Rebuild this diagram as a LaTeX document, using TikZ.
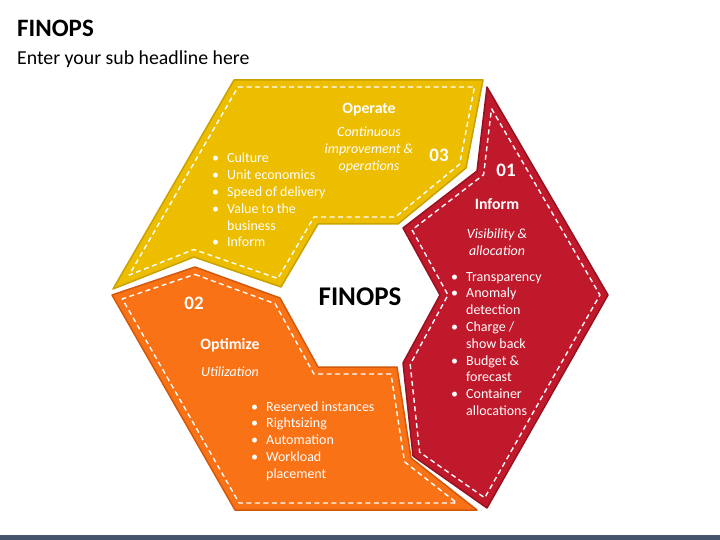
\documentclass[tikz,border=0pt]{standalone}
\usepackage{fontspec}
\setmainfont{Carlito}
\definecolor{yfill}{HTML}{EDBD00}
\definecolor{ydraw}{HTML}{C9A200}
\definecolor{rfill}{HTML}{C1192C}
\definecolor{rdraw}{HTML}{961220}
\definecolor{ofill}{HTML}{FA7216}
\definecolor{odraw}{HTML}{D2580C}
\definecolor{barcol}{HTML}{44546A}
\begin{document}
\begin{tikzpicture}[x=1pt,y=-1pt,
  piece/.style={line width=1.5pt, line join=round},
  stitch/.style={draw=white, line width=1.4pt, dash pattern=on 5pt off 3.5pt, line join=round},
  hd/.style={text=white, font=\bfseries\fontsize{15.8}{18}\selectfont, inner sep=0pt, anchor=base},
  num/.style={text=white, font=\bfseries\fontsize{19}{22}\selectfont, inner sep=0pt, anchor=base},
  sub/.style={text=white, font=\itshape\fontsize{14}{17}\selectfont, inner sep=0pt, anchor=base},
  bul/.style={text=white, font=\fontsize{14}{16.8}\selectfont, inner sep=0pt, anchor=base west}]
\useasboundingbox (0,0) rectangle (720,540);
\fill[barcol] (0,535) rectangle (720,540);

% titles
\node[inner sep=0pt, anchor=base west, font=\bfseries\fontsize{25}{30}\selectfont] (title) at (17,37) {FINOPS};
\node[inner sep=0pt, anchor=base west, font=\fontsize{19.8}{23}\selectfont] (subtitle) at (17,65) {Enter your sub headline here};

% yellow piece
\draw[piece, fill=yfill, draw=ydraw] (234,80) -- (483,80) -- (466,168) -- (398,224) -- (318,224) -- (281,287) -- (194,257) -- (113,289) -- cycle;
\draw[stitch] (238.0,87.0) -- (474.5,87.0) -- (459.6,164.2) -- (395.5,217.0) -- (314.0,217.0) -- (277.9,278.5) -- (193.8,249.5) -- (129.1,275.1) -- cycle;
% red piece
\draw[piece, fill=rfill, draw=rdraw] (487,87) -- (608,295) -- (487,508) -- (413,456) -- (403,363) -- (440,295) -- (403,228) -- (477,171) -- cycle;
\draw[stitch] (491.5,108.6) -- (599.9,295.0) -- (484.7,497.8) -- (419.6,452.1) -- (410.2,364.4) -- (448.0,295.0) -- (412.0,229.9) -- (483.6,174.7) -- cycle;
% orange piece
\draw[piece, fill=ofill, draw=odraw] (195,267) -- (280,298) -- (318,367) -- (397,367) -- (411,458) -- (477,510) -- (235,510) -- (112,295) -- cycle;
\draw[stitch] (194.9,274.4) -- (275.1,303.7) -- (313.9,374.0) -- (391.0,374.0) -- (404.5,461.8) -- (456.8,503.0) -- (239.1,503.0) -- (122.3,298.9) -- cycle;

% centre
\node[inner sep=0pt, anchor=base, font=\bfseries\fontsize{27}{32}\selectfont] (centre) at (360,305) {FINOPS};

% Operate
\node[hd] (operate) at (369,114) {Operate};
\node[sub] (operatesub) at (369,137) {\begin{tabular}[t]{@{}c@{}}Continuous\\improvement \&\\operations\end{tabular}};
\node[num] (n03) at (439,162) {03};
\node[bul] (operatelist) at (212,163) {\begin{tabular}[t]{@{}l@{\hspace{8pt}}l@{}}\textbullet & Culture\\ \textbullet & Unit economics\\ \textbullet & Speed of delivery\\ \textbullet & Value to the\\ & business\\ \textbullet & Inform\end{tabular}};

% Inform
\node[num] (n01) at (506,177) {01};
\node[hd] (inform) at (497,210) {Inform};
\node[sub] (informsub) at (497,239) {\begin{tabular}[t]{@{}c@{}}Visibility \&\\allocation\end{tabular}};
\node[bul] (informlist) at (451,281) {\begin{tabular}[t]{@{}l@{\hspace{8pt}}l@{}}\textbullet & Transparency\\ \textbullet & Anomaly\\ & detection\\ \textbullet & Charge /\\ & show back\\ \textbullet & Budget \&\\ & forecast\\ \textbullet & Container\\ & allocations\end{tabular}};

% Optimize
\node[num] (n02) at (194,309) {02};
\node[hd] (optimize) at (230,349) {Optimize};
\node[sub] (optimizesub) at (230,376) {Utilization};
\node[bul] (optimizelist) at (251,411) {\begin{tabular}[t]{@{}l@{\hspace{8pt}}l@{}}\textbullet & Reserved instances\\ \textbullet & Rightsizing\\ \textbullet & Automation\\ \textbullet & Workload\\ & placement\end{tabular}};
\end{tikzpicture}
\end{document}
